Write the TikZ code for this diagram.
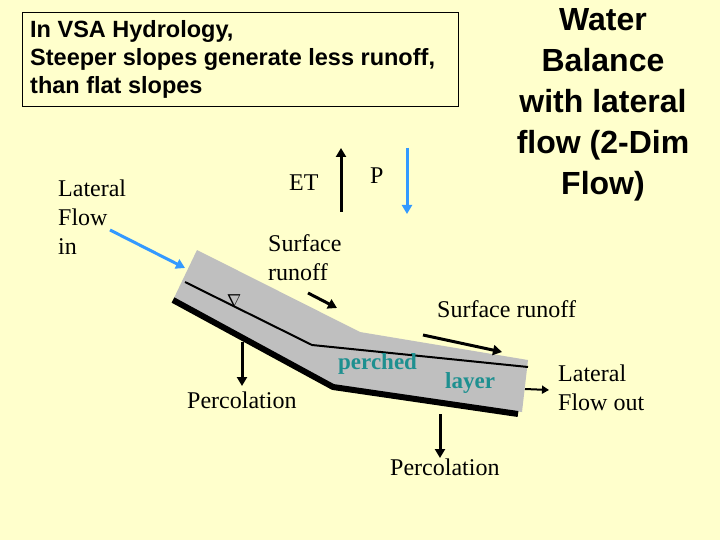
\documentclass[tikz,border=0pt]{standalone}
\usepackage{fontspec}
\newfontfamily\sans{Liberation Sans}
\setmainfont{Liberation Serif}
\usetikzlibrary{arrows.meta}
\definecolor{bg}{HTML}{FFFFCC}
\definecolor{teal2}{HTML}{1E9090}
\definecolor{blu}{HTML}{3399FF}
\begin{document}
\begin{tikzpicture}[x=1pt,y=-1pt,
  lbl/.style={font=\fontsize{24}{29}\selectfont,align=left,anchor=north west,inner sep=0},
  arr/.style={line width=3pt,-{Triangle[length=9pt,width=10pt]}},
  barr/.style={arr,blu}]
\fill[bg] (0,0) rectangle (720,540);
\useasboundingbox (0,0) rectangle (720,540);
\node[draw,fill=bg,minimum width=436pt,minimum height=94pt,anchor=north west,inner sep=0] (box) at (22,12) {};
\node[lbl,font=\sans\bfseries\fontsize{23.5}{28.3}\selectfont] (title) at (30,20) {In VSA Hydrology,\\Steeper slopes generate less runoff,\\than flat slopes};
\node[font=\sans\bfseries\fontsize{32}{41}\selectfont,align=center] (wb) at (603,105) {Water\\Balance\\with lateral\\flow (2-Dim\\Flow)};
\fill[gray!50!white] (197,250) -- (360,332) -- (528,360) -- (522,412) -- (335,388) -- (173,300) -- cycle;
\draw[line width=6pt] (173,300) -- (333,387) -- (518,414);
\draw[line width=2pt] (185,282) -- (312,345) -- (528,367);
\node[font=\fontsize{16}{16}\selectfont] (wt) at (234,301) {$\nabla$};
\node[lbl] (lfi) at (58,180) {Lateral\\Flow\\in};
\coordinate (lfa) at (110,230); \coordinate (lfb) at (185,268);
\draw[barr] (lfa) -- (lfb);
\node[lbl] (et) at (289,175) {ET};
\coordinate (eta) at (341,212); \coordinate (etb) at (341,148);
\draw[arr] (eta) -- (etb);
\node[lbl] (p) at (370,168) {P};
\coordinate (pa) at (407,148); \coordinate (pb) at (407,214);
\draw[barr] (pa) -- (pb);
\node[lbl] (sr1) at (268,234) {Surface\\runoff};
\coordinate (s1a) at (308,293); \coordinate (s1b) at (337,308);
\draw[arr] (s1a) -- (s1b);
\node[lbl] (sr2) at (437,300) {Surface runoff};
\coordinate (s2a) at (423,335); \coordinate (s2b) at (502,352);
\draw[arr] (s2a) -- (s2b);
\node[lbl,font=\bfseries\fontsize{23}{29}\selectfont,text=teal2] (pe) at (338,353) {perched};
\node[lbl,font=\bfseries\fontsize{23}{29}\selectfont,text=teal2] (la) at (445,372) {layer};
\coordinate (p1a) at (242,342); \coordinate (p1b) at (242,386);
\draw[arr] (p1a) -- (p1b);
\node[lbl] (pc1) at (187,392) {Percolation};
\coordinate (p2a) at (440,414); \coordinate (p2b) at (440,458);
\draw[arr] (p2a) -- (p2b);
\node[lbl] (pc2) at (390,459) {Percolation};
\coordinate (loa) at (525,389); \coordinate (lob) at (549,390);
\draw[line width=2pt,-{Triangle[length=7pt,width=8pt]}] (loa) -- (lob);
\node[lbl] (lfo) at (558,365) {Lateral\\Flow out};
\end{tikzpicture}
\end{document}
